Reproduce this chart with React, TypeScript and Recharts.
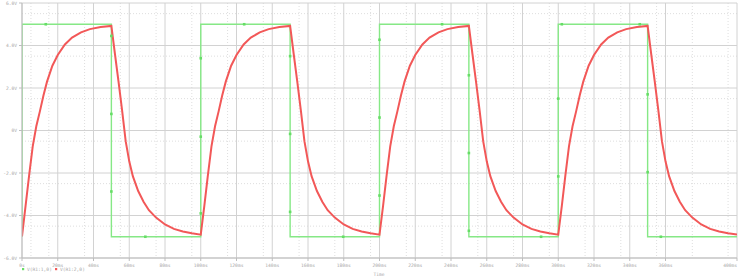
import React from 'react';
import { CartesianGrid, ComposedChart, Line, Scatter, XAxis, YAxis } from 'recharts';

// time in ms, voltage in V
const cycleStarts = [0, 100, 200, 300];

// capacitor charging after each rising edge (offset from edge)
const riseOffsets = [0, 2, 4, 6, 8, 10, 12, 14, 17, 20, 24, 28, 33, 38, 44, 50];
const riseVolts = [-4.98, -3.55, -2.1, -0.75, 0.2, 0.9, 1.65, 2.3, 3.05, 3.55, 4.05, 4.37, 4.62, 4.77, 4.87, 4.92];

// discharging after each falling edge
const fallOffsets = [0, 2, 4, 6, 8, 10, 12, 15, 18, 21, 25, 30, 35, 40, 45, 50];
const fallVolts = [4.92, 3.6, 2.3, 0.95, -0.5, -1.45, -2.15, -2.85, -3.35, -3.75, -4.1, -4.42, -4.63, -4.75, -4.84, -4.9];

// source square wave V(R1:1,0)
const squareTimes = [0, 0, 50, 50, 100, 100, 150, 150, 200, 200, 250, 250, 300, 300, 350, 350, 400];
const squareVolts = [-5, 5, 5, -5, -5, 5, 5, -5, -5, 5, 5, -5, -5, 5, 5, -5, -5];

// trace markers on the square wave
const markerTimes = [13.3, 50, 50, 50, 69, 100, 100, 100, 124.3, 150, 150, 150, 179.7, 200, 200, 200, 235, 250, 250, 250, 290.4, 300, 300, 302, 345.6, 350, 350, 357.4];
const markerVolts = [5, 4.45, 0.78, -2.87, -5, -3.9, -0.29, 3.4, 5, 3.5, -0.16, -3.83, -5, -3.06, 0.61, 4.27, 5, 2.6, -1.06, -4.72, -5, -2.16, 1.5, 5, 5, 1.7, -1.96, -5];

const xTicks = [0, 20, 40, 60, 80, 100, 120, 140, 160, 180, 200, 220, 240, 260, 280, 300, 320, 340, 360, 380, 400];
const yTicks = [-6, -4, -2, 0, 2, 4, 6];

const xMinor: number[] = [];
for (let t = 5; t < 400; t += 5) if (t % 20 !== 0) xMinor.push(t);
const yMinor: number[] = [];
for (let v = -5.5; v < 6; v += 0.5) if (Math.abs(v % 2) > 0.01) yMinor.push(v);

const redData: { t: number; v: number }[] = [];
cycleStarts.forEach((c, i) => {
  riseOffsets.forEach((o, j) => {
    if (i > 0 && j === 0) return;
    redData.push({ t: c + o, v: riseVolts[j] });
  });
  fallOffsets.forEach((o, j) => {
    if (j === 0) return;
    redData.push({ t: c + 50 + o, v: fallVolts[j] });
  });
});

const greenData = squareTimes.map((t, i) => ({ t, v: squareVolts[i] }));
const markerData = markerTimes.map((t, i) => ({ t, v: markerVolts[i] }));

const FONT = '"DejaVu Sans Mono", monospace';
const TEXT = '#a8a8a8';

const formatTime = (v: number) => (v === 0 ? '0s' : `${v}ms`);
const formatVolt = (v: number) => (v === 0 ? '0V' : `${v.toFixed(1)}V`);

const XTick = (props: any) => {
  const { x, y, payload } = props;
  const last = payload.value === 400;
  return (
    <text
      x={last ? 737 : x}
      y={y + 4}
      textAnchor={last ? 'end' : 'middle'}
      fontSize={4.6}
      fontFamily={FONT}
      fill={TEXT}
    >
      {formatTime(payload.value)}
    </text>
  );
};

const MarkerShape = (props: any) => {
  const { cx, cy } = props;
  return <rect x={cx - 1.3} y={cy - 1.3} width={2.6} height={2.6} fill="#66dd66" />;
};

export default function App() {
  return (
    <div style={{ position: 'relative', width: 740, height: 279, background: '#fff' }}>
      <style>{'body{margin:0}'}</style>
      <ComposedChart width={740} height={279} margin={{ top: 3, right: 3, bottom: 0, left: 0 }}>
        <CartesianGrid
          stroke="#dedede"
          strokeDasharray="1 2"
          verticalValues={xMinor}
          horizontalValues={yMinor}
        />
        <CartesianGrid stroke="#d2d2d2" verticalValues={xTicks} horizontalValues={yTicks} />
        <XAxis
          type="number"
          dataKey="t"
          domain={[0, 400]}
          ticks={xTicks}
          height={21}
          stroke="#bdbdbd"
          tickSize={3}
          tick={<XTick />}
          allowDataOverflow
        />
        <YAxis
          type="number"
          dataKey="v"
          domain={[-6, 6]}
          ticks={yTicks}
          width={22}
          stroke="#bdbdbd"
          tickSize={3}
          tickFormatter={formatVolt}
          tick={{ fontSize: 4.6, fontFamily: FONT, fill: TEXT }}
          allowDataOverflow
        />
        <Line
          data={greenData}
          dataKey="v"
          type="linear"
          stroke="#86e886"
          strokeWidth={1.4}
          dot={false}
          isAnimationActive={false}
        />
        <Line
          data={redData}
          dataKey="v"
          type="linear"
          stroke="#f25858"
          strokeWidth={2}
          dot={false}
          isAnimationActive={false}
        />
        <Scatter data={markerData} dataKey="v" shape={<MarkerShape />} isAnimationActive={false} />
      </ComposedChart>
      <svg width={740} height={279} style={{ position: 'absolute', left: 0, top: 0, pointerEvents: 'none' }}>
        <rect x={22} y={268} width={2.2} height={2.2} fill="#66dd66" />
        <text x={27} y={270.6} fontSize={4.6} fontFamily={FONT} fill={TEXT}>
          V(R1:1,0)
        </text>
        <rect x={55} y={268} width={2.2} height={2.2} fill="#f25858" />
        <text x={60} y={270.6} fontSize={4.6} fontFamily={FONT} fill={TEXT}>
          V(R1:2,0)
        </text>
        <text x={379} y={276} textAnchor="middle" fontSize={4.6} fontFamily={FONT} fill={TEXT}>
          Time
        </text>
      </svg>
    </div>
  );
}
